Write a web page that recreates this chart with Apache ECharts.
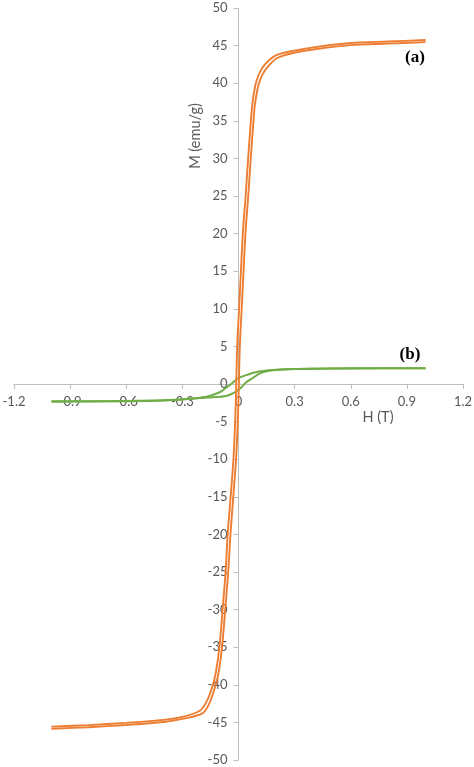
<!DOCTYPE html>
<html>
<head>
<meta charset="utf-8">
<script src="https://cdn.jsdelivr.net/npm/echarts@6/dist/echarts.min.js"></script>
<style>
html,body{margin:0;padding:0;background:#fff;}
#chart{width:474px;height:767px;}
</style>
</head>
<body>
<div id="chart"></div>
<script>
// Tick labels
const xTicks = [-1.2, -0.9, -0.6, -0.3, 0, 0.3, 0.6, 0.9, 1.2];
const yTicks = [-50,-45,-40,-35,-30,-25,-20,-15,-10,-5,0,5,10,15,20,25,30,35,40,45,50];

// Sample (a): descending branch [H (T), M (emu/g)]
const aDown = [[1.0,45.74],[0.8,45.54],[0.6,45.34],[0.4,44.77],[0.3,44.34],[0.2,43.7],[0.145,42.6],[0.115,41.5],[0.095,40.2],[0.083,38.8],[0.073,37.0],[0.063,34.0],[0.053,30.5],[0.038,25],[0.023,20],[0.013,15],[0.003,10],[-0.007,5],[-0.012,0],[-0.017,-4.5],[-0.027,-10],[-0.042,-15],[-0.058,-20],[-0.069,-25],[-0.085,-30],[-0.102,-35],[-0.122,-38.5],[-0.143,-40.5],[-0.172,-42.3],[-0.207,-43.45],[-0.3,-44.26],[-0.4,-44.66],[-0.6,-45.06],[-0.8,-45.36],[-1.0,-45.56]];
// Sample (a): ascending branch
const aUp = [[-1.0,-45.84],[-0.8,-45.64],[-0.6,-45.34],[-0.4,-44.94],[-0.3,-44.54],[-0.193,-43.8],[-0.158,-42.6],[-0.129,-40.6],[-0.108,-38.6],[-0.088,-35],[-0.071,-30],[-0.055,-25],[-0.043,-20],[-0.028,-15],[-0.013,-10],[-0.003,-4.5],[0.002,0],[0.007,5],[0.017,10],[0.027,15],[0.037,20],[0.052,25],[0.067,30.5],[0.077,34],[0.087,37],[0.097,38.6],[0.107,39.8],[0.127,41.1],[0.157,42.2],[0.207,43.35],[0.3,44.06],[0.4,44.49],[0.6,45.06],[0.8,45.26],[1.0,45.46]];
// Sample (b): descending branch
const bDown = [[1.0,2.1],[0.6,2.08],[0.4,2.03],[0.3,2.0],[0.2,1.88],[0.13,1.72],[0.08,1.5],[0.056,1.3],[0.025,1.05],[0,0.8],[-0.03,0.2],[-0.05,-0.2],[-0.067,-0.5],[-0.09,-0.95],[-0.12,-1.3],[-0.17,-1.7],[-0.28,-2.0],[-0.4,-2.15],[-0.6,-2.25],[-0.8,-2.3],[-1.0,-2.3]];
// Sample (b): ascending branch
const bUp = [[-1.0,-2.35],[-0.8,-2.32],[-0.6,-2.28],[-0.4,-2.18],[-0.28,-2.03],[-0.17,-1.8],[-0.1,-1.7],[-0.067,-1.6],[-0.035,-1.3],[-0.013,-1.0],[0.013,-0.5],[0.04,0.2],[0.077,0.8],[0.11,1.35],[0.15,1.7],[0.2,1.87],[0.3,1.99],[0.4,2.03],[0.6,2.07],[1.0,2.1]];

const xName = 'H (T)';
const yName = 'M (emu/g)';
const labelA = '(a)';
const labelB = '(b)';

const ORANGE = '#ED7D31';
const GREEN = '#70AD47';
const AXIS = '#BFBFBF';
const TXT = '#595959';
const FONT = 'Lato, "Open Sans", sans-serif';

const W = 474, H = 767;
const G = {left: 14, right: 11, top: 8, bottom: 7};
const gw = W - G.left - G.right, gh = H - G.top - G.bottom;
const xMin = xTicks[0], xMax = xTicks[xTicks.length - 1];
const yMin = yTicks[0], yMax = yTicks[yTicks.length - 1];
// offsets so that the axes cross at zero
const yAxisOffset = -gw * (0 - xMin) / (xMax - xMin);
const xAxisOffset = -gh * (0 - yMin) / (yMax - yMin);

const chart = echarts.init(document.getElementById('chart'), null, {renderer: 'canvas'});

function line(data, color, w) {
  return {
    type: 'line', data: data, showSymbol: false, smooth: 0.3,
    lineStyle: {color: color, width: w}, itemStyle: {color: color},
    silent: true, animation: false
  };
}

chart.setOption({
  animation: false,
  backgroundColor: '#fff',
  grid: {left: G.left, right: G.right, top: G.top, bottom: G.bottom, outerBoundsMode: 'none', containLabel: false},
  xAxis: {
    type: 'value', min: xMin, max: xMax, interval: 0.3, position: 'bottom', offset: xAxisOffset,
    axisLine: {onZero: false, lineStyle: {color: AXIS, width: 1}},
    axisTick: {show: true, length: 5, lineStyle: {color: AXIS}},
    axisLabel: {color: TXT, fontSize: 13, fontFamily: FONT, margin: 11, hideOverlap: false,
      formatter: v => { const r = Math.round(v * 10) / 10; return r === 0 ? '0' : String(r); }},
    splitLine: {show: false}
  },
  yAxis: {
    type: 'value', min: yMin, max: yMax, interval: 5, position: 'left', offset: yAxisOffset,
    axisLine: {onZero: false, lineStyle: {color: AXIS, width: 1}},
    axisTick: {show: true, length: 5, lineStyle: {color: AXIS}},
    axisLabel: {color: TXT, fontSize: 13, fontFamily: FONT, margin: 11, hideOverlap: false,
      formatter: v => String(Math.round(v))},
    splitLine: {show: false}
  },
  series: [line(bDown, GREEN, 2), line(bUp, GREEN, 2), line(aDown, ORANGE, 1.9), line(aUp, ORANGE, 1.9)],
  graphic: [
    {type: 'text', x: 195, y: 136, rotation: Math.PI / 2,
      style: {text: yName, fill: TXT, font: '14.5px ' + FONT, textAlign: 'center', textVerticalAlign: 'middle'}},
    {type: 'text', x: 378, y: 417,
      style: {text: xName, fill: TXT, font: '14.5px ' + FONT, textAlign: 'center', textVerticalAlign: 'middle'}},
    {type: 'text', x: 415, y: 58,
      style: {text: labelA, fill: '#000', font: 'bold 17px "Liberation Serif", serif', textAlign: 'center', textVerticalAlign: 'middle'}},
    {type: 'text', x: 410, y: 355,
      style: {text: labelB, fill: '#000', font: 'bold 17px "Liberation Serif", serif', textAlign: 'center', textVerticalAlign: 'middle'}}
  ]
});
</script>
</body>
</html>
